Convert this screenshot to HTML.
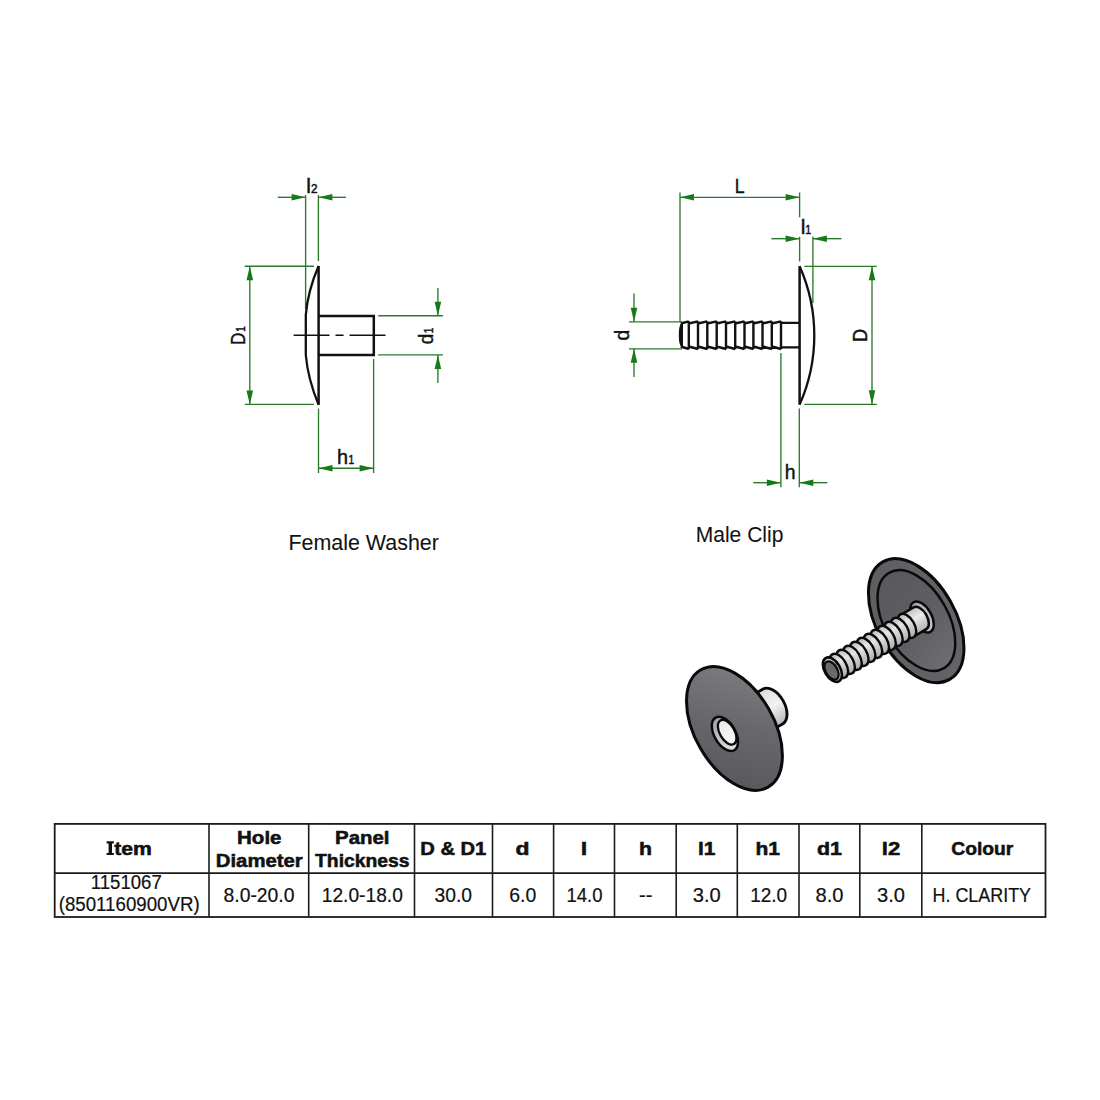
<!DOCTYPE html>
<html><head><meta charset="utf-8"><title>Female Washer / Male Clip</title>
<style>
html,body{margin:0;padding:0;background:#fff;}
svg{display:block;}
text{font-family:"Liberation Sans",sans-serif;}
</style></head>
<body>
<svg width="1100" height="1100" viewBox="0 0 1100 1100">
<rect width="1100" height="1100" fill="#ffffff"/>
<defs>
<linearGradient id="disc" gradientUnits="userSpaceOnUse" x1="-40" y1="35" x2="40" y2="-45">
 <stop offset="0" stop-color="#5a595d"/><stop offset="0.5" stop-color="#68676b"/><stop offset="1" stop-color="#7c7b7f"/>
</linearGradient>
<linearGradient id="disc2" x1="0" y1="0" x2="1" y2="1">
 <stop offset="0" stop-color="#5e5d61"/><stop offset="1" stop-color="#656468"/>
</linearGradient>
<linearGradient id="disc3" gradientUnits="userSpaceOnUse" x1="-25" y1="-50" x2="15" y2="45">
 <stop offset="0" stop-color="#59585c"/><stop offset="0.6" stop-color="#5f5e62"/><stop offset="1" stop-color="#6c6b6f"/>
</linearGradient>
<linearGradient id="boss" x1="0" y1="0" x2="0" y2="1">
 <stop offset="0" stop-color="#dedede"/><stop offset="0.5" stop-color="#f2f2f2"/><stop offset="1" stop-color="#b5b5b5"/>
</linearGradient>
<linearGradient id="shaft" x1="0" y1="0" x2="0" y2="1">
 <stop offset="0" stop-color="#c0c0c0"/><stop offset="0.4" stop-color="#eaeaea"/><stop offset="1" stop-color="#b0b0b0"/>
</linearGradient>
<linearGradient id="coin" x1="0" y1="0" x2="0" y2="1">
 <stop offset="0" stop-color="#b8b8b8"/><stop offset="0.35" stop-color="#e6e6e6"/><stop offset="1" stop-color="#aaaaaa"/>
</linearGradient>
<linearGradient id="hub" x1="0" y1="0" x2="1" y2="1">
 <stop offset="0" stop-color="#9a9a9a"/><stop offset="1" stop-color="#d0d0d0"/>
</linearGradient>
<linearGradient id="holering" x1="0" y1="0" x2="0" y2="1">
 <stop offset="0" stop-color="#a0a0a0"/><stop offset="1" stop-color="#e4e4e4"/>
</linearGradient>
<linearGradient id="holein" x1="0" y1="0" x2="0" y2="1">
 <stop offset="0" stop-color="#e8e8e8"/><stop offset="1" stop-color="#f8f8f8"/>
</linearGradient>
</defs>
<line x1="305.6" y1="195" x2="305.6" y2="309" stroke="#2a7a2a" stroke-width="1.35"/>
<line x1="318.4" y1="195" x2="318.4" y2="261" stroke="#2a7a2a" stroke-width="1.35"/>
<line x1="244.7" y1="266.2" x2="314" y2="266.2" stroke="#2a7a2a" stroke-width="1.35"/>
<line x1="244.7" y1="404.4" x2="314" y2="404.4" stroke="#2a7a2a" stroke-width="1.35"/>
<line x1="378.2" y1="315.7" x2="442.9" y2="315.7" stroke="#2a7a2a" stroke-width="1.35"/>
<line x1="378.2" y1="354.9" x2="442.9" y2="354.9" stroke="#2a7a2a" stroke-width="1.35"/>
<line x1="318.5" y1="408.5" x2="318.5" y2="473" stroke="#2a7a2a" stroke-width="1.35"/>
<line x1="373.6" y1="359" x2="373.6" y2="473" stroke="#2a7a2a" stroke-width="1.35"/>
<line x1="277.7" y1="197.3" x2="305.6" y2="197.3" stroke="#2a7a2a" stroke-width="1.35"/>
<path d="M305.6,197.3 L291.6,200.6 L291.6,194.0 Z" fill="#167a16"/>
<line x1="318.4" y1="197.3" x2="346" y2="197.3" stroke="#2a7a2a" stroke-width="1.35"/>
<path d="M318.4,197.3 L332.4,194.0 L332.4,200.6 Z" fill="#167a16"/>
<line x1="249.8" y1="266.2" x2="249.8" y2="404.4" stroke="#2a7a2a" stroke-width="1.35"/>
<path d="M249.8,266.2 L253.1,280.2 L246.5,280.2 Z" fill="#167a16"/>
<path d="M249.8,404.4 L246.5,390.4 L253.1,390.4 Z" fill="#167a16"/>
<line x1="437.9" y1="288" x2="437.9" y2="315.7" stroke="#2a7a2a" stroke-width="1.35"/>
<path d="M437.9,315.7 L434.6,301.7 L441.2,301.7 Z" fill="#167a16"/>
<line x1="437.9" y1="354.9" x2="437.9" y2="383" stroke="#2a7a2a" stroke-width="1.35"/>
<path d="M437.9,354.9 L441.2,368.9 L434.6,368.9 Z" fill="#167a16"/>
<line x1="318.5" y1="468.2" x2="373.6" y2="468.2" stroke="#2a7a2a" stroke-width="1.35"/>
<path d="M318.5,468.2 L332.5,464.9 L332.5,471.5 Z" fill="#167a16"/>
<path d="M373.6,468.2 L359.6,471.5 L359.6,464.9 Z" fill="#167a16"/>
<path d="M318.6,266 L318.6,404.8" stroke="#111" stroke-width="2.5" fill="none"/>
<path d="M318.6,266 C312.5,280 307.2,298 305.8,315 L305.8,355 C307.2,372 312.5,390 318.6,404.8" stroke="#111" stroke-width="2.3" fill="none" stroke-linejoin="round"/>
<path d="M318.6,316 L373.8,316 L373.8,355.1 L318.6,355.1" stroke="#111" stroke-width="2.5" fill="none"/>
<path d="M293.6,335.3 H329.5 M335.5,335.3 H343.6 M349.5,335.3 H385.5" stroke="#111" stroke-width="1.5"/>
<line x1="680" y1="192.5" x2="680" y2="321.5" stroke="#2a7a2a" stroke-width="1.35"/>
<line x1="799.6" y1="192.5" x2="799.6" y2="217.3" stroke="#2a7a2a" stroke-width="1.35"/>
<line x1="799.6" y1="236.7" x2="799.6" y2="261.5" stroke="#2a7a2a" stroke-width="1.35"/>
<line x1="812.9" y1="236.5" x2="812.9" y2="303" stroke="#2a7a2a" stroke-width="1.35"/>
<line x1="804.3" y1="266.3" x2="876.8" y2="266.3" stroke="#2a7a2a" stroke-width="1.35"/>
<line x1="804.3" y1="404.3" x2="876.8" y2="404.3" stroke="#2a7a2a" stroke-width="1.35"/>
<line x1="780.9" y1="353" x2="780.9" y2="487.3" stroke="#2a7a2a" stroke-width="1.35"/>
<line x1="799.3" y1="408.6" x2="799.3" y2="487.3" stroke="#2a7a2a" stroke-width="1.35"/>
<line x1="629" y1="321.8" x2="682" y2="321.8" stroke="#2a7a2a" stroke-width="1.35"/>
<line x1="629" y1="348.8" x2="682" y2="348.8" stroke="#2a7a2a" stroke-width="1.35"/>
<line x1="680" y1="197.3" x2="799.6" y2="197.3" stroke="#2a7a2a" stroke-width="1.35"/>
<path d="M680.0,197.3 L694.0,194.0 L694.0,200.6 Z" fill="#167a16"/>
<path d="M799.6,197.3 L785.6,200.6 L785.6,194.0 Z" fill="#167a16"/>
<line x1="771.3" y1="238.7" x2="799.6" y2="238.7" stroke="#2a7a2a" stroke-width="1.35"/>
<path d="M799.6,238.7 L785.6,242.0 L785.6,235.4 Z" fill="#167a16"/>
<line x1="812.9" y1="238.7" x2="841.5" y2="238.7" stroke="#2a7a2a" stroke-width="1.35"/>
<path d="M812.9,238.7 L826.9,235.4 L826.9,242.0 Z" fill="#167a16"/>
<line x1="872" y1="266.3" x2="872" y2="404.3" stroke="#2a7a2a" stroke-width="1.35"/>
<path d="M872.0,266.3 L875.3,280.3 L868.7,280.3 Z" fill="#167a16"/>
<path d="M872.0,404.3 L868.7,390.3 L875.3,390.3 Z" fill="#167a16"/>
<line x1="753.2" y1="482.7" x2="780.9" y2="482.7" stroke="#2a7a2a" stroke-width="1.35"/>
<path d="M780.9,482.7 L766.9,486.0 L766.9,479.4 Z" fill="#167a16"/>
<line x1="799.3" y1="482.7" x2="827.3" y2="482.7" stroke="#2a7a2a" stroke-width="1.35"/>
<path d="M799.3,482.7 L813.3,479.4 L813.3,486.0 Z" fill="#167a16"/>
<line x1="634" y1="293.5" x2="634" y2="321.8" stroke="#2a7a2a" stroke-width="1.35"/>
<path d="M634.0,321.8 L630.7,307.8 L637.3,307.8 Z" fill="#167a16"/>
<line x1="634" y1="348.8" x2="634" y2="377" stroke="#2a7a2a" stroke-width="1.35"/>
<path d="M634.0,348.8 L637.3,362.8 L630.7,362.8 Z" fill="#167a16"/>
<path d="M799.6,266.3 L799.6,404.6" stroke="#111" stroke-width="2.5" fill="none"/>
<path d="M799.6,266.3 A170,170 0 0 1 799.6,404.6" stroke="#111" stroke-width="2.3" fill="none"/>
<path d="M799.6,322.9 H781 M799.6,347.3 H781" stroke="#111" stroke-width="2.3" fill="none"/>
<path d="M680.8,323.5 L688.8,321.4 M680.8,346.5 L688.8,349 M688.8,321.2 V349.2 M688.8,323.5 L698,321.4 M688.8,346.5 L698,349 M698,321.2 V349.2 M698,323.5 L707.3,321.4 M698,346.5 L707.3,349 M707.3,321.2 V349.2 M707.3,323.5 L716.7,321.4 M707.3,346.5 L716.7,349 M716.7,321.2 V349.2 M716.7,323.5 L726,321.4 M716.7,346.5 L726,349 M726,321.2 V349.2 M726,323.5 L735.2,321.4 M726,346.5 L735.2,349 M735.2,321.2 V349.2 M735.2,323.5 L744.5,321.4 M735.2,346.5 L744.5,349 M744.5,321.2 V349.2 M744.5,323.5 L753.4,321.4 M744.5,346.5 L753.4,349 M753.4,321.2 V349.2 M753.4,323.5 L762.5,321.4 M753.4,346.5 L762.5,349 M762.5,321.2 V349.2 M762.5,323.5 L771.8,321.4 M762.5,346.5 L771.8,349 M771.8,321.2 V349.2 M771.8,323.5 L781,321.4 M771.8,346.5 L781,349 M781,321.2 V349.2 " stroke="#111" stroke-width="2.4" fill="none"/>
<path d="M682.2,323.3 C680,324.5 679.6,328 679.6,335 C679.6,342 680,345.5 682.2,346.7 Z" fill="#111" stroke="#111" stroke-width="1.6" stroke-linejoin="round"/>
<g transform="translate(734.45,728.45) rotate(-29.8)">
 <path d="M36,-20 L44,-20 A12,20 0 0 1 44,20 L36,20 Z" fill="url(#boss)" stroke="#0a0a0a" stroke-width="2.8"/>
 <ellipse cx="0" cy="0" rx="39.4" ry="67.6" fill="url(#disc)" stroke="#0a0a0a" stroke-width="3"/>
 <ellipse cx="-11" cy="0" rx="10.6" ry="18.8" fill="url(#holering)" stroke="#0a0a0a" stroke-width="2.5"/>
 <ellipse cx="-8.2" cy="-0.3" rx="7.4" ry="13.6" fill="url(#holein)" stroke="#0a0a0a" stroke-width="2.3"/>
</g>
<g transform="translate(916.2,620.65) rotate(-29.6)">
 <ellipse cx="0" cy="0" rx="39.3" ry="67.6" fill="url(#disc2)" stroke="#0a0a0a" stroke-width="3"/>
 <ellipse cx="0.2" cy="0" rx="32" ry="55" fill="url(#disc3)" stroke="#0a0a0a" stroke-width="2.5"/>
 <ellipse cx="6.8" cy="-0.3" rx="9.5" ry="17" fill="url(#hub)" stroke="#0a0a0a" stroke-width="2.5"/>
</g>
<g transform="translate(916.5,620.3) rotate(-30.4)">
 <path d="M-12,-12.6 L4,-12.6 A7.2,12.6 0 0 1 4,12.6 L-12,12.6 Z" fill="url(#shaft)" stroke="#0a0a0a" stroke-width="2.5"/>
 <ellipse cx="-11.0" cy="0" rx="7.4" ry="13.3" fill="url(#coin)" stroke="#0a0a0a" stroke-width="2.4"/><ellipse cx="-18.9" cy="0" rx="7.4" ry="13.3" fill="url(#coin)" stroke="#0a0a0a" stroke-width="2.4"/><ellipse cx="-26.8" cy="0" rx="7.4" ry="13.3" fill="url(#coin)" stroke="#0a0a0a" stroke-width="2.4"/><ellipse cx="-34.7" cy="0" rx="7.4" ry="13.3" fill="url(#coin)" stroke="#0a0a0a" stroke-width="2.4"/><ellipse cx="-42.6" cy="0" rx="7.4" ry="13.3" fill="url(#coin)" stroke="#0a0a0a" stroke-width="2.4"/><ellipse cx="-50.5" cy="0" rx="7.4" ry="13.3" fill="url(#coin)" stroke="#0a0a0a" stroke-width="2.4"/><ellipse cx="-58.4" cy="0" rx="7.4" ry="13.3" fill="url(#coin)" stroke="#0a0a0a" stroke-width="2.4"/><ellipse cx="-66.3" cy="0" rx="7.4" ry="13.3" fill="url(#coin)" stroke="#0a0a0a" stroke-width="2.4"/><ellipse cx="-74.2" cy="0" rx="7.4" ry="13.3" fill="url(#coin)" stroke="#0a0a0a" stroke-width="2.4"/><ellipse cx="-82.1" cy="0" rx="7.4" ry="13.3" fill="url(#coin)" stroke="#0a0a0a" stroke-width="2.4"/><ellipse cx="-90.0" cy="0" rx="7.4" ry="13.3" fill="url(#coin)" stroke="#0a0a0a" stroke-width="2.4"/>
 <ellipse cx="-97.5" cy="0" rx="7.8" ry="13.4" fill="#c8c8c8" stroke="#0a0a0a" stroke-width="2.6"/>
 <ellipse cx="-98.7" cy="0.3" rx="5.8" ry="10" fill="#6a6a6a" stroke="#0a0a0a" stroke-width="2.2"/>
</g>
<rect x="54.7" y="823.9" width="990.8" height="93.10000000000002" fill="none" stroke="#1c1c1c" stroke-width="1.8"/>
<line x1="54.7" y1="873.1" x2="1045.5" y2="873.1" stroke="#1c1c1c" stroke-width="1.6"/>
<line x1="209" y1="823.9" x2="209" y2="917.0" stroke="#1c1c1c" stroke-width="1.6"/>
<line x1="308.7" y1="823.9" x2="308.7" y2="917.0" stroke="#1c1c1c" stroke-width="1.6"/>
<line x1="414.5" y1="823.9" x2="414.5" y2="917.0" stroke="#1c1c1c" stroke-width="1.6"/>
<line x1="492.5" y1="823.9" x2="492.5" y2="917.0" stroke="#1c1c1c" stroke-width="1.6"/>
<line x1="553.6" y1="823.9" x2="553.6" y2="917.0" stroke="#1c1c1c" stroke-width="1.6"/>
<line x1="614.5" y1="823.9" x2="614.5" y2="917.0" stroke="#1c1c1c" stroke-width="1.6"/>
<line x1="676.2" y1="823.9" x2="676.2" y2="917.0" stroke="#1c1c1c" stroke-width="1.6"/>
<line x1="737.3" y1="823.9" x2="737.3" y2="917.0" stroke="#1c1c1c" stroke-width="1.6"/>
<line x1="799" y1="823.9" x2="799" y2="917.0" stroke="#1c1c1c" stroke-width="1.6"/>
<line x1="859.8" y1="823.9" x2="859.8" y2="917.0" stroke="#1c1c1c" stroke-width="1.6"/>
<line x1="921.8" y1="823.9" x2="921.8" y2="917.0" stroke="#1c1c1c" stroke-width="1.6"/>
<g transform="translate(306.35,192.80) scale(1.000,0.955)"><text x="0" y="0" font-size="21" fill="#111" stroke="#111" stroke-width="0.45">l</text></g>
<g transform="translate(310.91,192.80) scale(0.982,1.012)"><text x="0" y="0" font-size="12" fill="#111" stroke="#111" stroke-width="0.45">2</text></g>
<g transform="translate(336.97,463.80) scale(0.946,0.961)"><text x="0" y="0" font-size="21" fill="#111" stroke="#111" stroke-width="0.45">h</text></g>
<g transform="translate(348.42,463.89) scale(0.852,1.059)"><text x="0" y="0" font-size="12" fill="#111" stroke="#111" stroke-width="0.45">1</text></g>
<g transform="translate(734.65,192.70) scale(0.842,0.952)"><text x="0" y="0" font-size="21" fill="#111" stroke="#111" stroke-width="0.45">L</text></g>
<g transform="translate(800.65,233.81) scale(1.000,0.935)"><text x="0" y="0" font-size="21" fill="#111" stroke="#111" stroke-width="0.45">l</text></g>
<g transform="translate(805.19,233.80) scale(0.889,1.012)"><text x="0" y="0" font-size="12" fill="#111" stroke="#111" stroke-width="0.45">1</text></g>
<g transform="translate(784.70,478.50) scale(0.924,0.955)"><text x="0" y="0" font-size="21" fill="#111" stroke="#111" stroke-width="0.45">h</text></g>
<g transform="translate(245.21,345.00) scale(0.946,0.811)"><text x="0" y="0" font-size="21" fill="#111" stroke="#111" stroke-width="0.45" transform="rotate(-90)">D</text></g>
<g transform="translate(245.19,331.67) scale(1.071,0.833)"><text x="0" y="0" font-size="12" fill="#111" stroke="#111" stroke-width="0.45" transform="rotate(-90)">1</text></g>
<g transform="translate(432.53,344.33) scale(0.936,0.898)"><text x="0" y="0" font-size="21" fill="#111" stroke="#111" stroke-width="0.45" transform="rotate(-90)">d</text></g>
<g transform="translate(432.79,333.17) scale(1.059,0.833)"><text x="0" y="0" font-size="12" fill="#111" stroke="#111" stroke-width="0.45" transform="rotate(-90)">1</text></g>
<g transform="translate(628.73,340.54) scale(0.936,0.918)"><text x="0" y="0" font-size="21" fill="#111" stroke="#111" stroke-width="0.45" transform="rotate(-90)">d</text></g>
<g transform="translate(867.30,342.09) scale(0.959,0.866)"><text x="0" y="0" font-size="21" fill="#111" stroke="#111" stroke-width="0.45" transform="rotate(-90)">D</text></g>
<g transform="translate(288.48,550.40) scale(0.953,0.994)"><text x="0" y="0" font-size="22.5" fill="#111" stroke="#111" stroke-width="0.05">Female Washer</text></g>
<g transform="translate(695.71,541.67) scale(0.935,0.986)"><text x="0" y="0" font-size="22.5" fill="#111" stroke="#111" stroke-width="0.05">Male Clip</text></g>
<text x="259.3" y="844" font-size="19" font-weight="bold" text-anchor="middle" textLength="44.5" lengthAdjust="spacingAndGlyphs" fill="#111" stroke="#111" stroke-width="0.55">Hole</text>
<text x="259.3" y="866.6" font-size="19" font-weight="bold" text-anchor="middle" textLength="87.0" lengthAdjust="spacingAndGlyphs" fill="#111" stroke="#111" stroke-width="0.55">Diameter</text>
<text x="362.3" y="844" font-size="19" font-weight="bold" text-anchor="middle" textLength="54.5" lengthAdjust="spacingAndGlyphs" fill="#111" stroke="#111" stroke-width="0.55">Panel</text>
<text x="362.3" y="866.8" font-size="19" font-weight="bold" text-anchor="middle" textLength="94.5" lengthAdjust="spacingAndGlyphs" fill="#111" stroke="#111" stroke-width="0.55">Thickness</text>
<text x="453.3" y="855" font-size="19" font-weight="bold" text-anchor="middle" textLength="66.0" lengthAdjust="spacingAndGlyphs" fill="#111" stroke="#111" stroke-width="0.55">D &amp; D1</text>
<text x="522.4" y="855" font-size="19" font-weight="bold" text-anchor="middle" textLength="14.0" lengthAdjust="spacingAndGlyphs" fill="#111" stroke="#111" stroke-width="0.55">d</text>
<text x="584.1" y="855" font-size="19" font-weight="bold" text-anchor="middle" textLength="6.5" lengthAdjust="spacingAndGlyphs" fill="#111" stroke="#111" stroke-width="0.55">l</text>
<text x="645.5" y="855" font-size="19" font-weight="bold" text-anchor="middle" textLength="13.0" lengthAdjust="spacingAndGlyphs" fill="#111" stroke="#111" stroke-width="0.55">h</text>
<text x="706.8" y="855" font-size="19" font-weight="bold" text-anchor="middle" textLength="17.5" lengthAdjust="spacingAndGlyphs" fill="#111" stroke="#111" stroke-width="0.55">l1</text>
<text x="767.8" y="855" font-size="19" font-weight="bold" text-anchor="middle" textLength="24.5" lengthAdjust="spacingAndGlyphs" fill="#111" stroke="#111" stroke-width="0.55">h1</text>
<text x="829.5" y="855" font-size="19" font-weight="bold" text-anchor="middle" textLength="25.0" lengthAdjust="spacingAndGlyphs" fill="#111" stroke="#111" stroke-width="0.55">d1</text>
<text x="891.1" y="855" font-size="19" font-weight="bold" text-anchor="middle" textLength="18.5" lengthAdjust="spacingAndGlyphs" fill="#111" stroke="#111" stroke-width="0.55">l2</text>
<text x="982.3" y="855" font-size="19" font-weight="bold" text-anchor="middle" textLength="62.0" lengthAdjust="spacingAndGlyphs" fill="#111" stroke="#111" stroke-width="0.55">Colour</text>
<path d="M106.6,841.3 H113.8 V843.5 H112 V852.9 H113.8 V855.1 H106.6 V852.9 H108.6 V843.5 H106.6 Z" fill="#111"/>
<text x="114.3" y="855.1" font-size="19" font-weight="bold" text-anchor="start" textLength="37.6" lengthAdjust="spacingAndGlyphs" fill="#111" stroke="#111" stroke-width="0.55">tem</text>
<text x="126.3" y="889" font-size="20" font-weight="normal" text-anchor="middle" textLength="71" lengthAdjust="spacingAndGlyphs" fill="#111" stroke="#111" stroke-width="0.2">1151067</text>
<text x="129.2" y="910.8" font-size="20" font-weight="normal" text-anchor="middle" textLength="141" lengthAdjust="spacingAndGlyphs" fill="#111" stroke="#111" stroke-width="0.2">(8501160900VR)</text>
<text x="259" y="901.6" font-size="20" font-weight="normal" text-anchor="middle" textLength="71" lengthAdjust="spacingAndGlyphs" fill="#111" stroke="#111" stroke-width="0.2">8.0-20.0</text>
<text x="362.3" y="902" font-size="20" font-weight="normal" text-anchor="middle" textLength="81" lengthAdjust="spacingAndGlyphs" fill="#111" stroke="#111" stroke-width="0.2">12.0-18.0</text>
<text x="453.3" y="902" font-size="20" font-weight="normal" text-anchor="middle" textLength="37.5" lengthAdjust="spacingAndGlyphs" fill="#111" stroke="#111" stroke-width="0.2">30.0</text>
<text x="522.8" y="902" font-size="20" font-weight="normal" text-anchor="middle" textLength="27" lengthAdjust="spacingAndGlyphs" fill="#111" stroke="#111" stroke-width="0.2">6.0</text>
<text x="584.5" y="902" font-size="20" font-weight="normal" text-anchor="middle" textLength="36" lengthAdjust="spacingAndGlyphs" fill="#111" stroke="#111" stroke-width="0.2">14.0</text>
<text x="645.7" y="902" font-size="20" font-weight="normal" text-anchor="middle" textLength="13.5" lengthAdjust="spacingAndGlyphs" fill="#111" stroke="#111" stroke-width="0.2">--</text>
<text x="706.8" y="902" font-size="20" font-weight="normal" text-anchor="middle" textLength="28" lengthAdjust="spacingAndGlyphs" fill="#111" stroke="#111" stroke-width="0.2">3.0</text>
<text x="768.7" y="902" font-size="20" font-weight="normal" text-anchor="middle" textLength="37" lengthAdjust="spacingAndGlyphs" fill="#111" stroke="#111" stroke-width="0.2">12.0</text>
<text x="829.5" y="902" font-size="20" font-weight="normal" text-anchor="middle" textLength="28" lengthAdjust="spacingAndGlyphs" fill="#111" stroke="#111" stroke-width="0.2">8.0</text>
<text x="891" y="902" font-size="20" font-weight="normal" text-anchor="middle" textLength="28" lengthAdjust="spacingAndGlyphs" fill="#111" stroke="#111" stroke-width="0.2">3.0</text>
<text x="981.8" y="902" font-size="20" font-weight="normal" text-anchor="middle" textLength="98.5" lengthAdjust="spacingAndGlyphs" fill="#111" stroke="#111" stroke-width="0.2">H. CLARITY</text>
</svg>
</body></html>
